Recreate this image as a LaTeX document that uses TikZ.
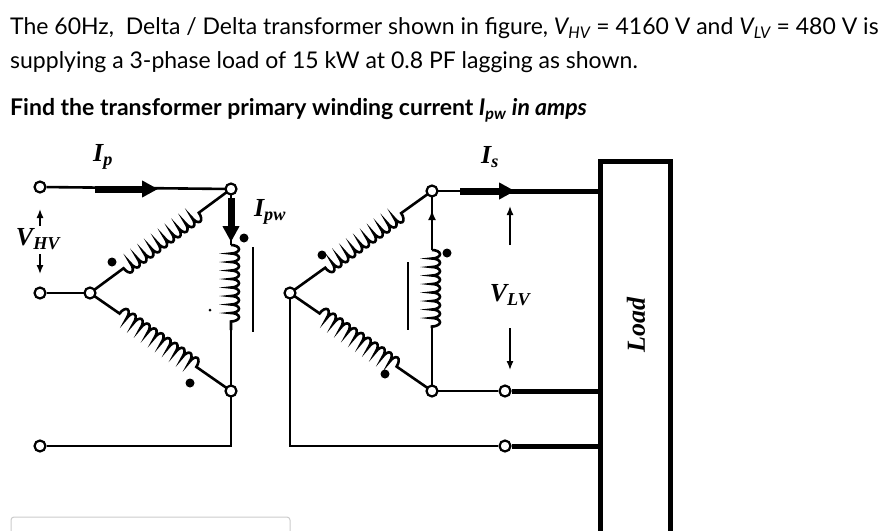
\documentclass[tikz,border=0pt]{standalone}
\usepackage{fontspec}
\setmainfont{Lato}
\newfontfamily\tms{Liberation Serif}
\usetikzlibrary{decorations.pathmorphing,arrows.meta}
\newcommand{\vsub}[2]{\textit{#1\textsubscript{#2}}}
\begin{document}
\begin{tikzpicture}[x=1pt,y=-1pt,
 wire/.style={line width=2.6pt},
 heavy/.style={line width=5pt},
 term/.style={circle,draw,line width=2.2pt,fill=white,inner sep=0pt,minimum size=11pt},
 blob/.style={circle,fill=black,inner sep=0pt,minimum size=9pt},
 coilw/.style={wire,decorate,decoration={bumps,segment length=17pt,amplitude=8pt,pre length=#1,post length=#1}},
 lbl/.style={font=\tms\bfseries\itshape\fontsize{26}{26}\selectfont},
 thin/.style={line width=1.4pt,-{Latex[length=9pt,width=7pt]}},
 bigarr/.style={line width=7pt,-{Triangle[length=16pt,width=16pt]}}]
\useasboundingbox (0,0) rectangle (896,530);
\fill[white] (0,0) rectangle (896,530);
% text
\node[anchor=west,font=\fontsize{23}{23}\selectfont,inner sep=0pt] (t1) at (10,28) {The 60Hz,\ \ Delta / Delta transformer shown in figure, \vsub{V}{HV} = 4160 V and \vsub{V}{LV} = 480 V is};
\node[anchor=west,font=\fontsize{23}{23}\selectfont,inner sep=0pt] (t2) at (10,62) {supplying a 3-phase load of 15 kW at 0.8 PF lagging as shown.};
\node[anchor=west,font=\bfseries\fontsize{23}{23}\selectfont,inner sep=0pt] (t3) at (10,110) {Find the transformer primary winding current \vsub{I}{pw} \textit{in amps}};
% primary
\coordinate (A) at (231,189); \coordinate (B) at (90,293); \coordinate (C) at (231,391);
\coordinate (Cb) at (231,446);
\node[term] (p1) at (40,187) {};
\node[term] (p2) at (40,293) {};
\node[term] (p3) at (40,446) {};
\draw[wire] (p1) -- (A);
\draw[wire] (p2) -- (B);
\draw[wire] (p3) -- (Cb) -- (C);
\draw[coilw=40pt] (A) -- (B);
\draw[coilw=36pt] (B) -- (C);
\draw[wire] (A) -- (231,245);
\draw[coilw=0pt] (231,245) -- (231,330);
\draw[wire] (231,330) -- (C);
\node[term] at (A) {}; \node[term] at (B) {}; \node[term] at (C) {};
\draw[bigarr] (95,189) -- (158,189);
\draw[bigarr] (231,198) -- (231,242);
\draw[line width=1.4pt] (253,247) -- (253,332);
\node[blob] at (112,262) {}; \node[blob] at (190,383) {}; \node[blob] at (244,238) {};
\node[blob,minimum size=3pt] at (210,310) {};
\node[lbl] (Ip) at (103,157) {\vsub{I}{p}};
\node[lbl] (Ipw) at (270,212) {\vsub{I}{pw}};
\node[lbl] (vhv) at (38,239) {\vsub{V}{HV}};
\draw[thin] (40,226) -- (40,209);
\draw[thin] (40,254) -- (40,274);
% secondary
\coordinate (D) at (432,191); \coordinate (E) at (290,293); \coordinate (F) at (432,391);
\draw[coilw=38pt] (D) -- (E);
\draw[coilw=36pt] (E) -- (F);
\draw[wire] (D) -- (432,250);
\draw[coilw=0pt] (432,250) -- (432,328);
\draw[wire] (432,328) -- (F);
\draw[-{Latex[length=10pt,width=8pt]},line width=2.6pt] (432,240) -- (432,210);
\draw[line width=1.4pt] (408,262) -- (408,330);
\node[term] (s2) at (505,391) {};
\node[term] (s3) at (505,446) {};
\draw[wire] (D) -- (460,191);
\draw[wire] (F) -- (s2);
\draw[wire] (E) -- (290,446) -- (s3);
\node[term] at (D) {}; \node[term] at (E) {}; \node[term] at (F) {};
\draw[heavy] (505,191) -- (600,191);
\draw[bigarr] (460,191) -- (515,191);
\draw[heavy] (s2) -- (600,391);
\draw[heavy] (s3) -- (600,446);
\node[blob] at (322,255) {}; \node[blob] at (385,374) {}; \node[blob] at (447,253) {};
\node[lbl] (Is) at (490,157) {\vsub{I}{s}};
\node[lbl] (vlv) at (510,295) {\vsub{V}{LV}};
\draw[thin] (510,245) -- (510,206);
\draw[thin] (510,328) -- (510,370);
\draw[heavy] (600,535) -- (600,161) -- (670,161) -- (670,535);
\node[lbl,rotate=90] (load) at (636,325) {Load};
% answer box edge
\draw[gray!40,line width=1pt,rounded corners=3pt] (11,540) -- (11,517) -- (290,517) -- (290,540);
\end{tikzpicture}
\end{document}
